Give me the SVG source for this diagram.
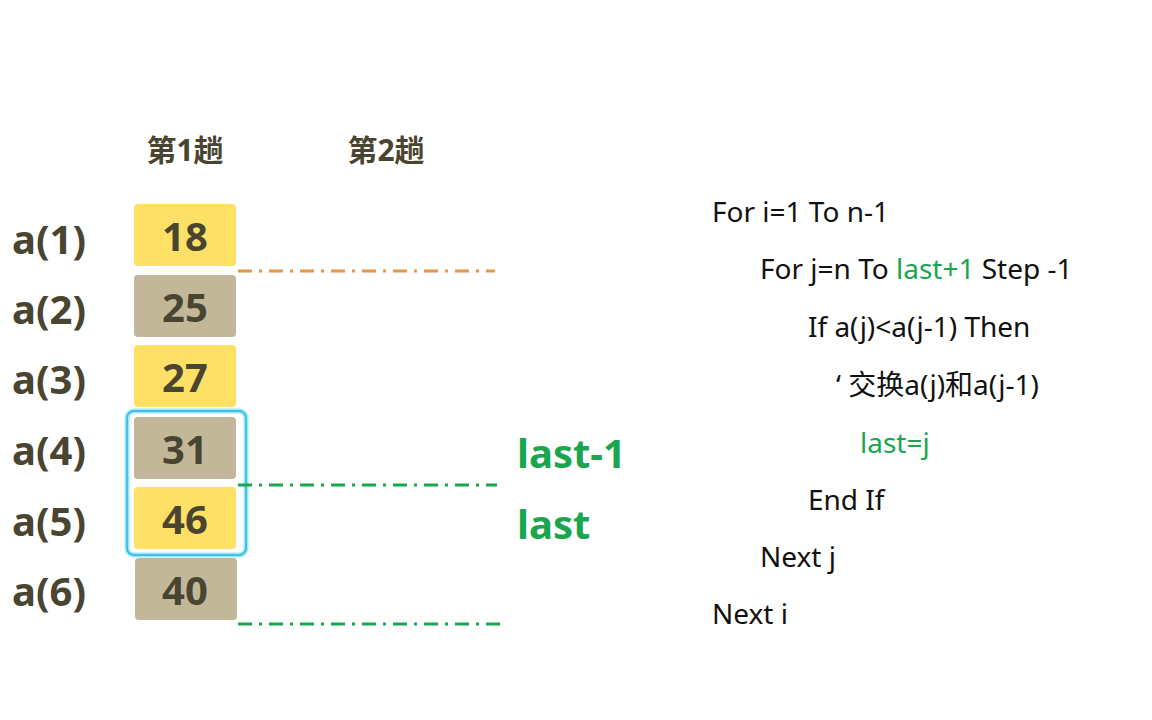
<svg xmlns="http://www.w3.org/2000/svg" width="1152" height="720" viewBox="0 0 1152 720">
<style>
.b{font-family:"Noto Sans","Noto Sans CJK SC",sans-serif;font-weight:bold;fill:#4a4530}
.v{font-size:40px;text-anchor:middle}
.lab{font-size:40px}
.c{font-family:"Noto Sans","Noto Sans CJK SC",sans-serif;font-size:28px;fill:#111}
.g{fill:#1aa54f}
.y{fill:#ffe066}
.t{fill:#c2b899}
.dl{stroke-width:3;stroke-dasharray:14 7 3 7;fill:none}
</style>
<rect width="1152" height="720" fill="#fff"/>
<text class="b" x="185" y="161" font-size="30" text-anchor="middle">第1趟</text>
<text class="b" x="386" y="161" font-size="30" text-anchor="middle">第2趟</text>
<g class="b lab">
<text x="12" y="254">a(1)</text><text x="12" y="324">a(2)</text><text x="12" y="394">a(3)</text>
<text x="12" y="465">a(4)</text><text x="12" y="536">a(5)</text><text x="12" y="606">a(6)</text>
</g>
<g id="n1"><rect class="y" x="134" y="204" width="102" height="62" rx="4"/><text class="b v" x="185" y="251">18</text></g>
<g id="n2"><rect class="t" x="134" y="275" width="102" height="62" rx="4"/><text class="b v" x="185" y="322">25</text></g>
<g id="n3"><rect class="y" x="134" y="345" width="102" height="62" rx="4"/><text class="b v" x="185" y="392">27</text></g>
<g id="n4"><rect class="t" x="134" y="417" width="102" height="62" rx="4"/><text class="b v" x="185" y="464">31</text></g>
<g id="n5"><rect class="y" x="134" y="487" width="102" height="62" rx="4"/><text class="b v" x="185" y="534">46</text></g>
<g id="n6"><rect class="t" x="135" y="558" width="102" height="62" rx="4"/><text class="b v" x="185" y="605">40</text></g>
<rect x="127" y="411" width="119" height="144" rx="7" fill="none" stroke="#9be6f7" stroke-width="5"/>
<rect x="127" y="411" width="119" height="144" rx="7" fill="none" stroke="#2bb5e0" stroke-width="1.5"/>
<g id="connectors">
<line class="dl" x1="238" y1="271" x2="495" y2="271" stroke="#e8954a"/>
<line class="dl" x1="238" y1="485" x2="497" y2="485" stroke="#1aa54f"/>
<line class="dl" x1="238" y1="624" x2="500" y2="624" stroke="#1aa54f"/>
</g>
<text class="b g" x="517" y="468" font-size="40">last-1</text>
<text class="b g" x="517" y="539" font-size="40">last</text>
<g class="c">
<text x="712" y="222">For i=1 To n-1</text>
<text x="760" y="279">For j=n To <tspan class="g">last+1</tspan> Step -1</text>
<text x="808" y="337">If a(j)&lt;a(j-1) Then</text>
<text x="836" y="395">‘ 交换a(j)和a(j-1)</text>
<text x="860" y="453" class="g">last=j</text>
<text x="808" y="510">End If</text>
<text x="760" y="567">Next j</text>
<text x="712" y="624">Next i</text>
</g>
</svg>
